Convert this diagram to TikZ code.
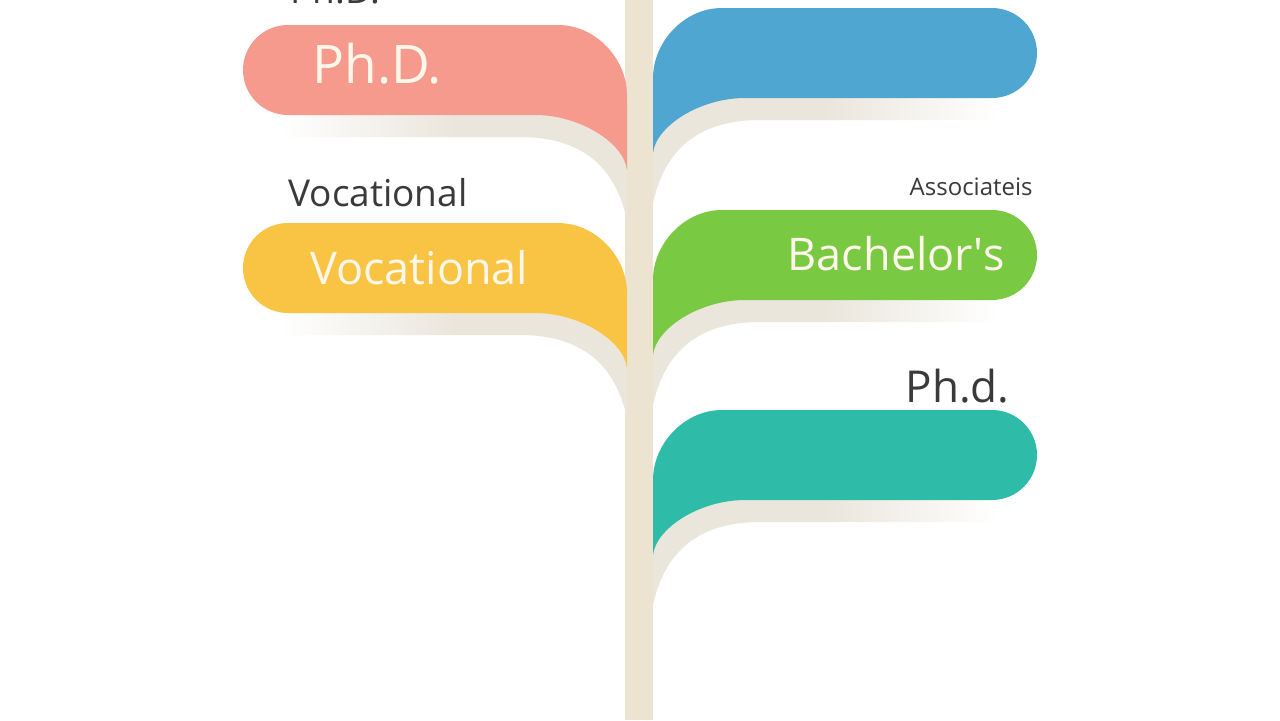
\documentclass[tikz,border=0pt]{standalone}
\usepackage{fontspec}
\setmainfont{Open Sans}
\usepackage{xcolor}

\definecolor{trunkc}{HTML}{ECE4D0}
\definecolor{shadowc}{HTML}{EAE6DC}
\definecolor{pinkc}{HTML}{F59A8C}
\definecolor{bluec}{HTML}{4FA7D1}
\definecolor{greenc}{HTML}{7AC943}
\definecolor{tealc}{HTML}{2EBCA8}
\definecolor{yellowc}{HTML}{F9C443}
\definecolor{labelc}{HTML}{3A3A3A}
\definecolor{creamc}{HTML}{FFF7EA}

% one branch on the right of the trunk, #1 = shadow fade, #2 = top edge, #3 = colour
\newcommand{\branch}[3][left color=shadowc, right color=white, middle color=shadowc]{%
  \shade[#1]
    (653,#2+195) .. controls (665,#2+140) and (700,#2+112) .. (760,#2+112)
    -- (1000,#2+112) -- (1000,#2+80) -- (653,#2+80) -- cycle;
  \fill[#3] (653,#2+145) -- (653,#2+70)
    .. controls (653,#2+34) and (684,#2) .. (722,#2)
    -- (992,#2) arc[start angle=-90, end angle=90, radius=45]
    -- (745,#2+90) .. controls (700,#2+90) and (656,#2+118) .. (653,#2+145) -- cycle;
}

\begin{document}
\begin{tikzpicture}[x=0.5pt,y=-0.5pt]
\useasboundingbox[fill=white] (0,0) rectangle (1280,720);

    \fill[trunkc] (625,0) rectangle (653,720);

    % right side
    \branch{8}{bluec}
    \branch{210}{greenc}
    \branch{410}{tealc}

    % left side, mirrored
\begin{scope}[shift={(1280,0)}, xscale=-1]
    \branch[left color=white, right color=shadowc, middle color=shadowc]{25}{pinkc}
    \branch[left color=white, right color=shadowc, middle color=shadowc]{223}{yellowc}
    \end{scope}

\begin{scope}[every node/.style={inner sep=0pt, text=labelc}]
    \node[anchor=base west, font=\fontsize{18.5}{22}\selectfont] (A) at (290,3) {Ph.D.};
    \node[anchor=base west, font=\fontsize{18.5}{22}\selectfont] (B) at (288,206) {Vocational};
    \node[anchor=base east, font=\fontsize{12}{14}\selectfont] (C) at (1033,195) {Associateis};
    \node[anchor=base east, font=\fontsize{22}{26}\selectfont] (D) at (1010,402) {Ph.d.};
    \end{scope}

\begin{scope}[every node/.style={inner sep=0pt, text=creamc}]
    \node[anchor=base west, font=\fontsize{26.6}{30}\selectfont] (E) at (312,83) {Ph.D.};
    \node[anchor=base west, font=\fontsize{22.5}{27}\selectfont] (F) at (310,284) {Vocational};
    \node[anchor=base east, font=\fontsize{22.5}{28}\selectfont] (G) at (1005,270) {Bachelor\textquotesingle s};
    \end{scope}

\end{tikzpicture}
\end{document}
